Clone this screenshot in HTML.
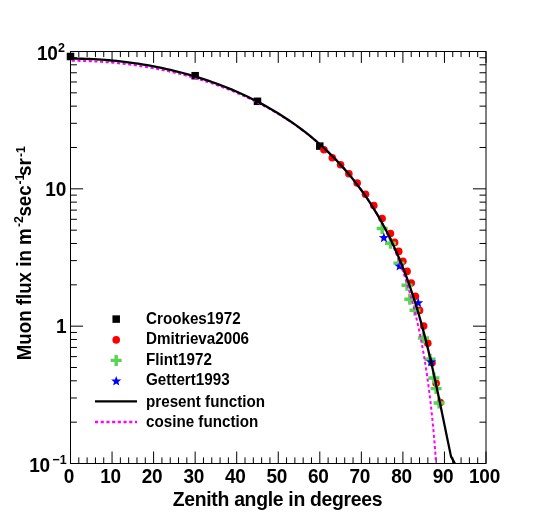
<!DOCTYPE html><html><head><meta charset="utf-8"><style>html,body{margin:0;padding:0;background:#fff;}svg{display:block;}text{font-family:"Liberation Sans", Arial, Helvetica, sans-serif;font-weight:bold;fill:#000;}</style></head><body>
<svg width="540" height="515" viewBox="0 0 540 515">
<rect width="540" height="515" fill="#fff"/>
<path d="M70.50 463.50V451.50M70.50 51.50V62.90M78.81 463.50V457.40M78.81 51.50V57.10M87.12 463.50V457.40M87.12 51.50V57.10M95.43 463.50V457.40M95.43 51.50V57.10M103.74 463.50V457.40M103.74 51.50V57.10M112.05 463.50V451.50M112.05 51.50V62.90M120.36 463.50V457.40M120.36 51.50V57.10M128.67 463.50V457.40M128.67 51.50V57.10M136.98 463.50V457.40M136.98 51.50V57.10M145.29 463.50V457.40M145.29 51.50V57.10M153.60 463.50V451.50M153.60 51.50V62.90M161.91 463.50V457.40M161.91 51.50V57.10M170.22 463.50V457.40M170.22 51.50V57.10M178.53 463.50V457.40M178.53 51.50V57.10M186.84 463.50V457.40M186.84 51.50V57.10M195.15 463.50V451.50M195.15 51.50V62.90M203.46 463.50V457.40M203.46 51.50V57.10M211.77 463.50V457.40M211.77 51.50V57.10M220.08 463.50V457.40M220.08 51.50V57.10M228.39 463.50V457.40M228.39 51.50V57.10M236.70 463.50V451.50M236.70 51.50V62.90M245.01 463.50V457.40M245.01 51.50V57.10M253.32 463.50V457.40M253.32 51.50V57.10M261.63 463.50V457.40M261.63 51.50V57.10M269.94 463.50V457.40M269.94 51.50V57.10M278.25 463.50V451.50M278.25 51.50V62.90M286.56 463.50V457.40M286.56 51.50V57.10M294.87 463.50V457.40M294.87 51.50V57.10M303.18 463.50V457.40M303.18 51.50V57.10M311.49 463.50V457.40M311.49 51.50V57.10M319.80 463.50V451.50M319.80 51.50V62.90M328.11 463.50V457.40M328.11 51.50V57.10M336.42 463.50V457.40M336.42 51.50V57.10M344.73 463.50V457.40M344.73 51.50V57.10M353.04 463.50V457.40M353.04 51.50V57.10M361.35 463.50V451.50M361.35 51.50V62.90M369.66 463.50V457.40M369.66 51.50V57.10M377.97 463.50V457.40M377.97 51.50V57.10M386.28 463.50V457.40M386.28 51.50V57.10M394.59 463.50V457.40M394.59 51.50V57.10M402.90 463.50V451.50M402.90 51.50V62.90M411.21 463.50V457.40M411.21 51.50V57.10M419.52 463.50V457.40M419.52 51.50V57.10M427.83 463.50V457.40M427.83 51.50V57.10M436.14 463.50V457.40M436.14 51.50V57.10M444.45 463.50V451.50M444.45 51.50V62.90M452.76 463.50V457.40M452.76 51.50V57.10M461.07 463.50V457.40M461.07 51.50V57.10M469.38 463.50V457.40M469.38 51.50V57.10M477.69 463.50V457.40M477.69 51.50V57.10M486.00 463.50V451.50M486.00 51.50V62.90M70.50 463.50H83.10M486.00 463.50H473.00M70.50 422.16H76.90M486.00 422.16H479.50M70.50 397.98H76.90M486.00 397.98H479.50M70.50 380.82H76.90M486.00 380.82H479.50M70.50 367.51H76.90M486.00 367.51H479.50M70.50 356.63H76.90M486.00 356.63H479.50M70.50 347.44H76.90M486.00 347.44H479.50M70.50 339.48H76.90M486.00 339.48H479.50M70.50 332.45H76.90M486.00 332.45H479.50M70.50 326.17H83.10M486.00 326.17H473.00M70.50 284.83H76.90M486.00 284.83H479.50M70.50 260.64H76.90M486.00 260.64H479.50M70.50 243.48H76.90M486.00 243.48H479.50M70.50 230.17H76.90M486.00 230.17H479.50M70.50 219.30H76.90M486.00 219.30H479.50M70.50 210.11H76.90M486.00 210.11H479.50M70.50 202.14H76.90M486.00 202.14H479.50M70.50 195.12H76.90M486.00 195.12H479.50M70.50 188.83H83.10M486.00 188.83H473.00M70.50 147.49H76.90M486.00 147.49H479.50M70.50 123.31H76.90M486.00 123.31H479.50M70.50 106.15H76.90M486.00 106.15H479.50M70.50 92.84H76.90M486.00 92.84H479.50M70.50 81.97H76.90M486.00 81.97H479.50M70.50 72.77H76.90M486.00 72.77H479.50M70.50 64.81H76.90M486.00 64.81H479.50M70.50 57.78H76.90M486.00 57.78H479.50" stroke="#000" stroke-width="1" fill="none"/>
<rect x="66.75" y="52.75" width="7.50" height="7.50" fill="#000"/>
<rect x="191.40" y="71.95" width="7.50" height="7.50" fill="#000"/>
<rect x="253.73" y="97.55" width="7.50" height="7.50" fill="#000"/>
<rect x="316.05" y="142.35" width="7.50" height="7.50" fill="#000"/>
<circle cx="323.96" cy="149.80" r="3.80" fill="#f00"/>
<circle cx="332.27" cy="157.70" r="3.80" fill="#f00"/>
<circle cx="340.57" cy="164.70" r="3.80" fill="#f00"/>
<circle cx="348.88" cy="173.70" r="3.80" fill="#f00"/>
<circle cx="357.19" cy="183.00" r="3.80" fill="#f00"/>
<circle cx="365.50" cy="194.20" r="3.80" fill="#f00"/>
<circle cx="373.81" cy="205.60" r="3.80" fill="#f00"/>
<circle cx="382.12" cy="218.50" r="3.80" fill="#f00"/>
<circle cx="390.44" cy="233.60" r="3.80" fill="#f00"/>
<circle cx="394.59" cy="242.40" r="3.80" fill="#f00"/>
<circle cx="398.75" cy="251.40" r="3.80" fill="#f00"/>
<circle cx="402.90" cy="261.20" r="3.80" fill="#f00"/>
<circle cx="407.06" cy="271.40" r="3.80" fill="#f00"/>
<circle cx="411.21" cy="283.10" r="3.80" fill="#f00"/>
<circle cx="415.37" cy="296.30" r="3.80" fill="#f00"/>
<circle cx="419.52" cy="310.40" r="3.80" fill="#f00"/>
<circle cx="423.68" cy="326.10" r="3.80" fill="#f00"/>
<circle cx="427.83" cy="343.30" r="3.80" fill="#f00"/>
<circle cx="431.99" cy="362.70" r="3.80" fill="#f00"/>
<circle cx="436.14" cy="383.20" r="3.80" fill="#f00"/>
<circle cx="440.30" cy="402.50" r="3.80" fill="#f00"/>
<path d="M380.50 223.00H383.90V226.80H387.70V230.20H383.90V234.00H380.50V230.20H376.70V226.80H380.50Z" fill="#59d454"/>
<path d="M388.80 237.80H392.20V241.60H396.00V245.00H392.20V248.80H388.80V245.00H385.00V241.60H388.80Z" fill="#59d454"/>
<path d="M397.20 257.60H400.60V261.40H404.40V264.80H400.60V268.60H397.20V264.80H393.40V261.40H397.20Z" fill="#59d454"/>
<path d="M405.30 279.70H408.70V283.50H412.50V286.90H408.70V290.70H405.30V286.90H401.50V283.50H405.30Z" fill="#59d454"/>
<path d="M408.10 293.70H411.50V297.50H415.30V300.90H411.50V304.70H408.10V300.90H404.30V297.50H408.10Z" fill="#59d454"/>
<path d="M413.30 304.70H416.70V308.50H420.50V311.90H416.70V315.70H413.30V311.90H409.50V308.50H413.30Z" fill="#59d454"/>
<path d="M421.70 332.50H425.10V336.30H428.90V339.70H425.10V343.50H421.70V339.70H417.90V336.30H421.70Z" fill="#59d454"/>
<path d="M428.30 353.80H431.70V357.60H435.50V361.00H431.70V364.80H428.30V361.00H424.50V357.60H428.30Z" fill="#59d454"/>
<path d="M432.20 372.50H435.60V376.30H439.40V379.70H435.60V383.50H432.20V379.70H428.40V376.30H432.20Z" fill="#59d454"/>
<path d="M434.40 383.10H437.80V386.90H441.60V390.30H437.80V394.10H434.40V390.30H430.60V386.90H434.40Z" fill="#59d454"/>
<path d="M437.40 397.50H440.80V401.30H444.60V404.70H440.80V408.50H437.40V404.70H433.60V401.30H437.40Z" fill="#59d454"/>
<polygon points="383.90,232.60 385.21,236.10 388.94,236.26 386.02,238.59 387.02,242.19 383.90,240.13 380.78,242.19 381.78,238.59 378.86,236.26 382.59,236.10" fill="#00f"/>
<polygon points="399.60,261.00 400.91,264.50 404.64,264.66 401.72,266.99 402.72,270.59 399.60,268.53 396.48,270.59 397.48,266.99 394.56,264.66 398.29,264.50" fill="#00f"/>
<polygon points="418.20,297.70 419.51,301.20 423.24,301.36 420.32,303.69 421.32,307.29 418.20,305.23 415.08,307.29 416.08,303.69 413.16,301.36 416.89,301.20" fill="#00f"/>
<polygon points="431.10,356.80 432.41,360.30 436.14,360.46 433.22,362.79 434.22,366.39 431.10,364.33 427.98,366.39 428.98,362.79 426.06,360.46 429.79,360.30" fill="#00f"/>
<polyline points="70.50,60.79 71.42,60.80 72.33,60.80 73.25,60.80 74.17,60.81 75.08,60.82 76.00,60.83 76.91,60.84 77.83,60.85 78.75,60.87 79.66,60.88 80.58,60.90 81.50,60.92 82.41,60.95 83.33,60.97 84.24,60.99 85.16,61.02 86.08,61.05 86.99,61.08 87.91,61.12 88.83,61.15 89.74,61.19 90.66,61.23 91.57,61.27 92.49,61.31 93.41,61.35 94.32,61.40 95.24,61.44 96.16,61.49 97.07,61.54 97.99,61.60 98.90,61.65 99.82,61.71 100.74,61.77 101.65,61.83 102.57,61.89 103.49,61.95 104.40,62.02 105.32,62.08 106.23,62.15 107.15,62.22 108.07,62.30 108.98,62.37 109.90,62.45 110.82,62.53 111.73,62.61 112.65,62.69 113.57,62.77 114.48,62.86 115.40,62.95 116.31,63.03 117.23,63.13 118.15,63.22 119.06,63.31 119.98,63.41 120.90,63.51 121.81,63.61 122.73,63.71 123.64,63.82 124.56,63.92 125.48,64.03 126.39,64.14 127.31,64.25 128.23,64.36 129.14,64.48 130.06,64.60 130.97,64.72 131.89,64.84 132.81,64.96 133.72,65.08 134.64,65.21 135.56,65.34 136.47,65.47 137.39,65.60 138.30,65.74 139.22,65.87 140.14,66.01 141.05,66.15 141.97,66.30 142.89,66.44 143.80,66.59 144.72,66.73 145.64,66.88 146.55,67.04 147.47,67.19 148.38,67.35 149.30,67.50 150.22,67.66 151.13,67.83 152.05,67.99 152.97,68.16 153.88,68.32 154.80,68.49 155.71,68.67 156.63,68.84 157.55,69.02 158.46,69.19 159.38,69.37 160.30,69.56 161.21,69.74 162.13,69.93 163.04,70.12 163.96,70.31 164.88,70.50 165.79,70.69 166.71,70.89 167.63,71.09 168.54,71.29 169.46,71.49 170.37,71.70 171.29,71.91 172.21,72.12 173.12,72.33 174.04,72.54 174.96,72.76 175.87,72.98 176.79,73.20 177.70,73.42 178.62,73.64 179.54,73.87 180.45,74.10 181.37,74.33 182.29,74.56 183.20,74.80 184.12,75.04 185.04,75.28 185.95,75.52 186.87,75.77 187.78,76.01 188.70,76.26 189.62,76.52 190.53,76.77 191.45,77.03 192.37,77.28 193.28,77.55 194.20,77.81 195.11,78.08 196.03,78.34 196.95,78.61 197.86,78.89 198.78,79.16 199.70,79.44 200.61,79.72 201.53,80.00 202.44,80.29 203.36,80.58 204.28,80.87 205.19,81.16 206.11,81.45 207.03,81.75 207.94,82.05 208.86,82.35 209.77,82.66 210.69,82.97 211.61,83.28 212.52,83.59 213.44,83.91 214.36,84.22 215.27,84.54 216.19,84.87 217.10,85.19 218.02,85.52 218.94,85.85 219.85,86.19 220.77,86.53 221.69,86.86 222.60,87.21 223.52,87.55 224.44,87.90 225.35,88.25 226.27,88.60 227.18,88.96 228.10,89.32 229.02,89.68 229.93,90.05 230.85,90.41 231.77,90.79 232.68,91.16 233.60,91.54 234.51,91.91 235.43,92.30 236.35,92.68 237.26,93.07 238.18,93.46 239.10,93.86 240.01,94.26 240.93,94.66 241.84,95.06 242.76,95.47 243.68,95.88 244.59,96.29 245.51,96.71 246.43,97.13 247.34,97.55 248.26,97.98 249.17,98.41 250.09,98.84 251.01,99.28 251.92,99.72 252.84,100.16 253.76,100.61 254.67,101.06 255.59,101.51 256.50,101.97 257.42,102.43 258.34,102.89 259.25,103.36 260.17,103.83 261.09,104.31 262.00,104.79 262.92,105.27 263.84,105.76 264.75,106.25 265.67,106.74 266.58,107.24 267.50,107.74 268.42,108.24 269.33,108.75 270.25,109.27 271.17,109.78 272.08,110.30 273.00,110.83 273.91,111.36 274.83,111.89 275.75,112.43 276.66,112.97 277.58,113.52 278.50,114.07 279.41,114.62 280.33,115.18 281.24,115.75 282.16,116.31 283.08,116.89 283.99,117.46 284.91,118.04 285.83,118.63 286.74,119.22 287.66,119.82 288.57,120.42 289.49,121.02 290.41,121.63 291.32,122.25 292.24,122.87 293.16,123.49 294.07,124.12 294.99,124.76 295.91,125.40 296.82,126.04 297.74,126.69 298.65,127.35 299.57,128.01 300.49,128.68 301.40,129.35 302.32,130.03 303.24,130.71 304.15,131.40 305.07,132.09 305.98,132.79 306.90,133.50 307.82,134.21 308.73,134.93 309.65,135.66 310.57,136.39 311.48,137.13 312.40,137.87 313.31,138.62 314.23,139.38 315.15,140.14 316.06,140.91 316.98,141.68 317.90,142.47 318.81,143.26 319.73,144.06 320.64,144.86 321.56,145.67 322.48,146.49 323.39,147.32 324.31,148.15 325.23,148.99 326.14,149.84 327.06,150.70 327.97,151.56 328.89,152.44 329.81,153.32 330.72,154.21 331.64,155.10 332.56,156.01 333.47,156.93 334.39,157.85 335.31,158.78 336.22,159.73 337.14,160.68 338.05,161.64 338.97,162.61 339.89,163.59 340.80,164.58 341.72,165.58 342.64,166.59 343.55,167.61 344.47,168.64 345.38,169.68 346.30,170.73 347.22,171.80 348.13,172.87 349.05,173.96 349.97,175.05 350.88,176.16 351.80,177.29 352.71,178.42 353.63,179.57 354.55,180.73 355.46,181.90 356.38,183.09 357.30,184.29 358.21,185.50 359.13,186.73 360.04,187.97 360.96,189.23 361.88,190.50 362.79,191.79 363.71,193.09 364.63,194.41 365.54,195.75 366.46,197.10 367.37,198.47 368.29,199.86 369.21,201.26 370.12,202.69 371.04,204.13 371.96,205.59 372.87,207.08 373.79,208.58 374.71,210.10 375.62,211.65 376.54,213.21 377.45,214.80 378.37,216.41 379.29,218.05 380.20,219.71 381.12,221.39 382.04,223.11 382.95,224.84 383.87,226.61 384.78,228.40 385.70,230.22 386.62,232.07 387.53,233.96 388.45,235.87 389.37,237.82 390.28,239.80 391.20,241.82 392.11,243.87 393.03,245.96 393.95,248.09 394.86,250.25 395.78,252.46 396.70,254.72 397.61,257.02 398.53,259.36 399.44,261.75 400.36,264.20 401.28,266.69 402.19,269.24 403.11,271.85 404.03,274.52 404.94,277.25 405.86,280.05 406.77,282.91 407.69,285.85 408.61,288.86 409.52,291.95 410.44,295.12 411.36,298.38 412.27,301.74 413.19,305.19 414.11,308.74 415.02,312.41 415.94,316.19 416.85,320.10 417.77,324.14 418.69,328.33 419.60,332.66 420.52,337.17 421.44,341.84 422.35,346.71 423.27,351.79 424.18,357.09 425.10,362.64 426.02,368.46 426.93,374.58 427.85,381.03 428.77,387.84 429.68,395.07 430.60,402.76 431.51,410.98 432.43,419.80 433.35,429.32 434.26,439.67 435.18,451.00 436.10,463.50" fill="none" stroke="#f0f" stroke-width="2" stroke-dasharray="3.1 2.55" stroke-dashoffset="4.35"/>
<polyline points="70.50,58.61 74.34,58.63 78.19,58.68 82.03,58.76 85.87,58.87 89.72,59.02 93.56,59.20 97.40,59.41 101.25,59.65 105.09,59.93 108.93,60.24 112.78,60.58 116.62,60.96 120.46,61.37 124.31,61.82 128.15,62.29 131.99,62.81 135.84,63.36 139.68,63.94 143.52,64.56 147.37,65.21 151.21,65.90 155.05,66.63 158.90,67.39 162.74,68.19 166.58,69.03 170.43,69.90 174.27,70.82 178.11,71.77 181.96,72.76 185.80,73.80 189.64,74.87 193.49,75.99 197.33,77.15 201.17,78.36 205.02,79.60 208.86,80.90 212.70,82.24 216.55,83.62 220.39,85.06 224.24,86.54 228.08,88.07 231.92,89.66 235.77,91.30 239.61,92.99 243.45,94.74 247.30,96.54 251.14,98.41 254.98,100.33 258.83,102.32 262.67,104.37 266.51,106.49 270.36,108.68 274.20,110.94 278.04,113.27 281.89,115.68 285.73,118.17 289.57,120.74 293.42,123.39 297.26,126.14 301.10,128.98 304.95,131.92 308.79,134.96 312.63,138.10 316.48,141.36 320.32,144.74 324.16,148.24 328.01,151.87 331.85,155.64 335.69,159.55 339.54,163.62 343.38,167.86 347.22,172.28 351.07,176.88 354.91,181.68 358.75,186.70 362.60,191.95 366.44,197.46 370.28,203.23 374.13,209.30 377.97,215.69 381.81,222.44 385.66,229.57 389.50,237.12 393.34,245.14 397.19,253.68 401.03,262.79 404.87,272.54 408.72,283.00 412.56,294.26 416.40,306.38 420.25,319.47 424.09,333.59 427.93,348.79 431.78,365.08 435.62,382.38 439.46,400.50 443.31,419.13 447.15,437.89 450.99,456.36 454.84,463.50" fill="none" stroke="#000" stroke-width="2.3" stroke-linejoin="round"/>
<rect x="70.50" y="51.50" width="415.50" height="412.00" fill="none" stroke="#000" stroke-width="1"/>
<text transform="translate(69.00 482.80) scale(1 1.05)" font-size="19" text-anchor="middle" letter-spacing="-0.3">0</text>
<text transform="translate(110.55 482.80) scale(1 1.05)" font-size="19" text-anchor="middle" letter-spacing="-0.3">10</text>
<text transform="translate(152.10 482.80) scale(1 1.05)" font-size="19" text-anchor="middle" letter-spacing="-0.3">20</text>
<text transform="translate(193.65 482.80) scale(1 1.05)" font-size="19" text-anchor="middle" letter-spacing="-0.3">30</text>
<text transform="translate(235.20 482.80) scale(1 1.05)" font-size="19" text-anchor="middle" letter-spacing="-0.3">40</text>
<text transform="translate(276.75 482.80) scale(1 1.05)" font-size="19" text-anchor="middle" letter-spacing="-0.3">50</text>
<text transform="translate(318.30 482.80) scale(1 1.05)" font-size="19" text-anchor="middle" letter-spacing="-0.3">60</text>
<text transform="translate(359.85 482.80) scale(1 1.05)" font-size="19" text-anchor="middle" letter-spacing="-0.3">70</text>
<text transform="translate(401.40 482.80) scale(1 1.05)" font-size="19" text-anchor="middle" letter-spacing="-0.3">80</text>
<text transform="translate(442.95 482.80) scale(1 1.05)" font-size="19" text-anchor="middle" letter-spacing="-0.3">90</text>
<text transform="translate(484.50 482.80) scale(1 1.05)" font-size="19" text-anchor="middle" letter-spacing="-0.3">100</text>
<text transform="translate(57.60 60.40) scale(1 1.05)" font-size="19" text-anchor="end" letter-spacing="-0.3">10</text>
<text transform="translate(58.00 51.80) scale(1 1.05)" font-size="12.5">2</text>
<text transform="translate(65.90 195.70) scale(1 1.05)" font-size="19" text-anchor="end" letter-spacing="-0.3">10</text>
<text transform="translate(66.60 333.30) scale(1 1.05)" font-size="19" text-anchor="end">1</text>
<text transform="translate(49.70 471.90) scale(1 1.05)" font-size="19" text-anchor="end" letter-spacing="-0.3">10</text>
<text transform="translate(52.50 464.20) scale(1 1.05)" font-size="12.5" font-weight="normal">&#8722;1</text>
<text transform="translate(277.50 505.50) scale(1 1.02)" font-size="19.4" text-anchor="middle" letter-spacing="-0.3">Zenith angle in degrees</text>
<text transform="translate(30.60 360.20) rotate(-90) scale(1 1.04)" font-size="18.7">Muon flux in m</text>
<text transform="translate(22.90 227.00) rotate(-90)" font-size="12.2">-2</text>
<text transform="translate(30.80 216.60) rotate(-90) scale(1 1.04)" font-size="18.7">sec</text>
<text transform="translate(24.30 184.60) rotate(-90)" font-size="12.2">-1</text>
<text transform="translate(30.70 175.90) rotate(-90) scale(1 1.04)" font-size="18.7">sr</text>
<text transform="translate(24.50 157.10) rotate(-90)" font-size="12.2">-1</text>
<rect x="112.45" y="315.35" width="7.50" height="7.50" fill="#000"/>
<circle cx="116.20" cy="339.90" r="3.80" fill="#f00"/>
<path d="M114.50 354.90H117.90V358.70H121.70V362.10H117.90V365.90H114.50V362.10H110.70V358.70H114.50Z" fill="#59d454"/>
<polygon points="116.20,375.90 117.51,379.40 121.24,379.56 118.32,381.89 119.32,385.49 116.20,383.43 113.08,385.49 114.08,381.89 111.16,379.56 114.89,379.40" fill="#00f"/>
<line x1="95" y1="401.4" x2="137" y2="401.4" stroke="#000" stroke-width="2.4"/>
<line x1="95" y1="422" x2="137" y2="422" stroke="#f0f" stroke-width="2.5" stroke-dasharray="3.1 2.6"/>
<text transform="translate(146.00 324.10) scale(1 1.06)" font-size="15.2">Crookes1972</text>
<text transform="translate(146.00 344.30) scale(1 1.06)" font-size="15.2">Dmitrieva2006</text>
<text transform="translate(146.00 364.80) scale(1 1.06)" font-size="15.2">Flint1972</text>
<text transform="translate(146.00 385.20) scale(1 1.06)" font-size="15.2">Gettert1993</text>
<text transform="translate(146.00 407.10) scale(1 1.06)" font-size="15.2">present function</text>
<text transform="translate(146.00 427.10) scale(1 1.06)" font-size="15.2">cosine function</text>
</svg></body></html>
